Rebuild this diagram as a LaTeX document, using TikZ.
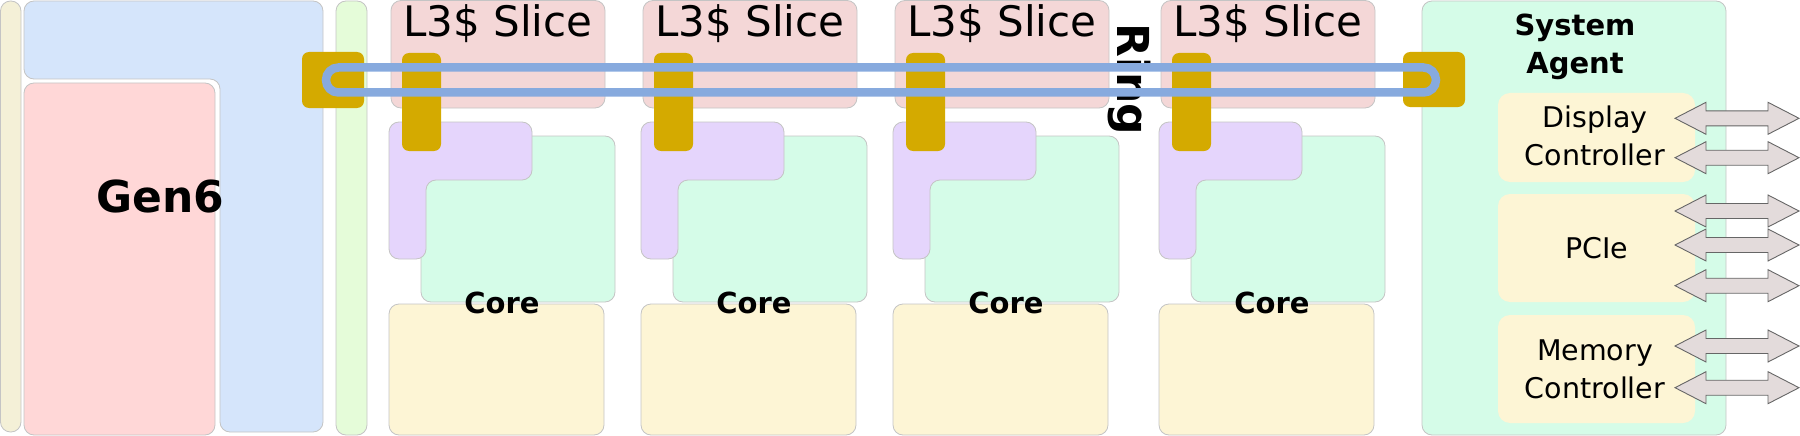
\documentclass[tikz,border=0pt]{standalone}
\usepackage{fontspec}
\setmainfont{DejaVu Sans}
\definecolor{beige}{HTML}{F4F0D7}
\definecolor{gpublue}{HTML}{D5E5FB}
\definecolor{gensixpink}{HTML}{FFD7D7}
\definecolor{lgreen}{HTML}{E5FCD9}
\definecolor{lthreepink}{HTML}{F4D7D7}
\definecolor{purp}{HTML}{E5D5FC}
\definecolor{coregreen}{HTML}{D5FCE8}
\definecolor{yel}{HTML}{FDF5D5}
\definecolor{sagreen}{HTML}{D5FCE8}
\definecolor{gold}{HTML}{D4AA00}
\definecolor{ringblue}{HTML}{87AADE}
\definecolor{arrowfill}{HTML}{E3DBDB}
\definecolor{arrowline}{HTML}{666666}
\definecolor{boxline}{HTML}{C4C4C4}
\begin{document}
\begin{tikzpicture}[x=1pt,y=-1pt,
  box/.style={draw=boxline,line width=0.8pt,rounded corners=10pt},
  inbox/.style={rounded corners=12pt},
  stopbox/.style={fill=gold,rounded corners=7pt},
  ringline/.style={draw=ringblue,line width=8.5pt,rounded corners=12.5pt},
  lbl/.style={inner sep=0pt,anchor=base},
  bigbold/.style={font=\bfseries\fontsize{44}{50}\selectfont},
  midbold/.style={font=\bfseries\fontsize{29}{38}\selectfont},
  slicefont/.style={font=\fontsize{42}{50}\selectfont},
  safont/.style={font=\fontsize{28.5}{38}\selectfont},
  dblarr/.pic={\draw[fill=arrowfill,draw=arrowline,line width=0.9pt,line join=miter]
     (0,0) -- (31,-16) -- (31,-7.5) -- (93,-7.5) -- (93,-16) -- (124,0)
     -- (93,16) -- (93,7.5) -- (31,7.5) -- (31,16) -- cycle;}
]
\useasboundingbox (0,0) rectangle (1800,436);
% left area
\draw[box,fill=beige] (0.5,1) rectangle (21,432);
\draw[box,fill=gpublue] (24,1) -- (323,1) -- (323,432) -- (220,432) -- (220,79) -- (24,79) -- cycle;
\draw[box,fill=gensixpink] (24,83) rectangle (215,435);
\node[lbl,bigbold] (gen6) at (160.5,212) {Gen6};
\draw[box,fill=lgreen] (336,1) rectangle (367,435);
\fill[stopbox] (302,52) rectangle (364,108);
% slices
\foreach \L/\n in {391/1,643/2,895/3,1161/4}{
  \draw[box,fill=yel] ({\L-2},304) rectangle ({\L+213},435);
  \draw[box,fill=coregreen] ({\L+30},136) rectangle ({\L+224},302);
  \draw[box,fill=purp] ({\L-2},122) -- ({\L+141},122) -- ({\L+141},180) -- ({\L+35},180) -- ({\L+35},259) -- ({\L-2},259) -- cycle;
  \draw[box,fill=lthreepink] (\L,0.5) rectangle ({\L+214},108);
  \node[lbl,slicefont] (slice\n) at ({\L+107},37) {L3\$ Slice};
  \fill[stopbox] ({\L+11},53) rectangle ({\L+50},151);
  \node[lbl,midbold] (core\n) at ({\L+111},313) {Core};
}
\node[lbl,bigbold,rotate=-90] (ringlbl) at (1117,79.5) {Ring};
% system agent
\draw[box,fill=sagreen] (1422,1) rectangle (1726,435);
\fill[stopbox] (1403,52) rectangle (1465,107);
\node[midbold,align=center,inner sep=0pt] (sa) at (1575,47) {System\\Agent};
\fill[inbox,fill=yel] (1498,93) rectangle (1695,182);
\fill[inbox,fill=yel] (1498,194) rectangle (1695,302);
\fill[inbox,fill=yel] (1498,315) rectangle (1695,423);
\node[safont,align=center,inner sep=0pt] (disp) at (1595,136) {Display\\Controller};
\node[lbl,safont] (pcie) at (1597,258) {PCIe};
\node[safont,align=center,inner sep=0pt] (mem) at (1595,369) {Memory\\Controller};
\foreach \yy/\k in {118.3/1,157.7/2,211/3,245/4,285.7/5,346/6,387.7/7}{
  \pic (arr\k) at (1675,\yy) {dblarr};
}
% ring
\draw[ringline] (326,67.5) rectangle (1436,92.5);
\end{tikzpicture}
\end{document}
